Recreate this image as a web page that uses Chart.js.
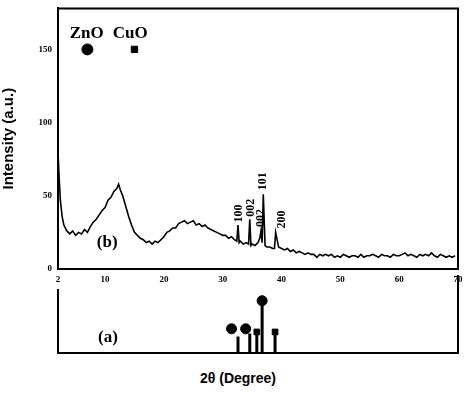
<!DOCTYPE html>
<html><head><meta charset="utf-8">
<script src="https://cdn.jsdelivr.net/npm/chart.js@4"></script>
<style>
body{margin:0;background:#fff;width:474px;height:408px;position:relative;overflow:hidden}
#c1{position:absolute;left:0;top:0}
#c2{position:absolute;left:0;top:269px}
#xt{position:absolute;left:200px;top:370px;font:bold 14px "Liberation Sans",Arial,sans-serif;color:#000}
</style></head><body>
<canvas id="c1" width="474" height="290"></canvas>
<canvas id="c2" width="474" height="90"></canvas>
<div id="xt">2θ (Degree)</div>
<script>
const twoTheta=[2,2.2,2.4,2.7,3,3.5,4,4.5,5,5.5,6,6.5,7,7.5,8,8.5,9,9.5,10,10.5,11,11.5,12,12.3,12.6,13,13.5,14,14.5,15,15.5,16,16.5,17,17.5,18,18.5,19,19.5,20,20.5,21,21.5,22,22.5,23,23.5,24,24.5,25,25.5,26,26.5,27,27.5,28,28.5,29,29.5,30,30.5,31,31.5,32,32.4,32.6,32.8,33,33.5,34,34.4,34.6,34.8,35,35.5,36,36.3,36.5,36.7,36.9,37.2,37.5,38,38.5,38.8,39,39.5,40,40.5,41,41.5,42,42.5,43,43.5,44,44.5,45,45.5,46,46.5,47,47.5,48,48.5,49,49.5,50,50.5,51,51.5,52,52.5,53,53.5,54,54.5,55,55.5,56,56.5,57,57.5,58,58.5,59,59.5,60,60.5,61,61.5,62,62.5,63,63.5,64,64.5,65,65.5,66,66.5,67,67.5,68,68.5,69,69.5,70];
const intensity=[80,62,47,36,30,26,24,26,23,25,24,27,25,29,32,34,37,40,42,47,49,53,55,58,54,50,43,36,30,25,23,21,20,18,19,17,19,18,20,22,25,26,28,28,31,32,33,31,32,33,30,31,29,30,28,27,26,25,24,23,23,21,22,20,19,30,18,19,17,18,17,34,16,17,16,18,21,26,18,51,16,15,15,14,14,25,15,14,13,14,12,13,11,12,11,10,11,10,10,8,10,9,10,9,10,8,9,8,10,9,8,9,9,8,10,8,9,9,10,9,8,10,9,9,8,10,9,9,10,11,9,10,9,8,10,9,10,9,11,9,8,10,9,8,9,8,9];
const peakLabels=["100","002","002","101","200"];
const peakPos=[32.6,34.6,36.3,36.7,38.8];
const peakTop=[29,33,26,51,25];
const stickPos=[32.6,34.6,35.8,36.7,38.9];
const stickH=[21,25,27,68,27];
const zno=[[31.5,31],[33.9,31],[36.7,67]];
const cuo=[[35.8,27],[38.9,27]];
const xTicks=[2,10,20,30,40,50,60,70];

const labelPlugin={id:'lbl',afterDatasetsDraw(ch){
  const c=ch.ctx,xs=ch.scales.x,ys=ch.scales.y;
  c.save();c.fillStyle='#000';
  c.font='bold 17px "Liberation Serif",serif';
  c.textAlign='left';c.textBaseline='alphabetic';
  c.fillText('ZnO',xs.getPixelForValue(4.0),ys.getPixelForValue(158));
  c.fillText('CuO',xs.getPixelForValue(11.3),ys.getPixelForValue(158));
  c.font='bold 17px "Liberation Serif",serif';
  c.fillText('(b)',xs.getPixelForValue(8.6),ys.getPixelForValue(15));
  c.font='bold 12px "Liberation Serif",serif';
  peakLabels.forEach((t,i)=>{
    c.save();
    let dx=[0,0,0,0,1.1][i];
    c.translate(xs.getPixelForValue(peakPos[i]+dx)+4,ys.getPixelForValue(peakTop[i])-4);
    c.rotate(-Math.PI/2);c.fillText(t,0,0);c.restore();
  });
  c.restore();
}};
new Chart(document.getElementById('c1'),{
  type:'scatter',
  data:{datasets:[
    {type:'line',data:twoTheta.map((x,i)=>({x,y:intensity[i]})),borderColor:'#000',borderWidth:1.6,pointRadius:0,tension:0},
    {data:[{x:7,y:150}],pointStyle:'circle',pointRadius:5.5,backgroundColor:'#000',borderColor:'#000'},
    {data:[{x:15,y:150}],pointStyle:'rect',pointRadius:4.5,backgroundColor:'#000',borderColor:'#000'}
  ]},
  options:{responsive:false,animation:false,
    layout:{padding:{left:0,right:16,top:3,bottom:0}},
    plugins:{legend:{display:false},tooltip:{enabled:false}},
    scales:{
      x:{type:'linear',min:2,max:70,grid:{display:false,drawTicks:true,tickLength:3},
        border:{color:'#000',width:2},
        afterBuildTicks:s=>{s.ticks=xTicks.map(v=>({value:v}));},
        afterFit:s=>{s.height=21;},
        ticks:{color:'#000',font:{family:'Liberation Serif',size:9,weight:'bold'},maxRotation:0,padding:2}},
      y:{min:0,max:178,grid:{display:false,tickLength:3},border:{color:'#000',width:2},
        afterBuildTicks:s=>{s.ticks=[0,50,100,150].map(v=>({value:v}));},
        afterFit:s=>{s.width=58;},
        title:{display:true,text:'Intensity (a.u.)',color:'#000',font:{family:'Liberation Sans',size:15,weight:'bold'},padding:{top:0,bottom:4}},
        ticks:{color:'#000',font:{family:'Liberation Serif',size:9,weight:'bold'},padding:3}}
    }},
  plugins:[labelPlugin,{id:'rb',afterDraw(ch){const a=ch.chartArea,c=ch.ctx;c.save();c.strokeStyle='#000';c.lineWidth=2;c.beginPath();c.moveTo(a.left,a.top);c.lineTo(a.right,a.top);c.lineTo(a.right,a.bottom);c.stroke();c.restore();}}]
});

const sticks=[];stickPos.forEach((x,i)=>{sticks.push({x,y:0},{x,y:stickH[i]},{x,y:null});});
new Chart(document.getElementById('c2'),{
  type:'scatter',
  data:{datasets:[
    {type:'line',data:sticks,borderColor:'#000',borderWidth:3,pointRadius:0,spanGaps:false},
    {data:zno.map(p=>({x:p[0],y:p[1]})),pointStyle:'circle',pointRadius:5,backgroundColor:'#000',borderColor:'#000'},
    {data:cuo.map(p=>({x:p[0],y:p[1]})),pointStyle:'rect',pointRadius:4,backgroundColor:'#000',borderColor:'#000'}
  ]},
  options:{responsive:false,animation:false,
    layout:{padding:{left:58,right:16,top:0,bottom:2}},
    plugins:{legend:{display:false},tooltip:{enabled:false}},
    scales:{x:{type:'linear',min:2,max:70,display:false},y:{min:0,max:100,display:false}}},
  plugins:[{id:'bx',afterDraw(ch){const a=ch.chartArea,c=ch.ctx;c.save();c.strokeStyle='#000';c.lineWidth=2;c.beginPath();c.moveTo(a.left,a.top+14);c.lineTo(a.left,a.bottom);c.lineTo(a.right,a.bottom);c.lineTo(a.right,a.top);c.stroke();
    c.fillStyle='#000';c.font='bold 17px "Liberation Serif",serif';c.fillText('(a)',ch.scales.x.getPixelForValue(8.8),ch.scales.y.getPixelForValue(14));c.restore();}}]
});
</script></body></html>
